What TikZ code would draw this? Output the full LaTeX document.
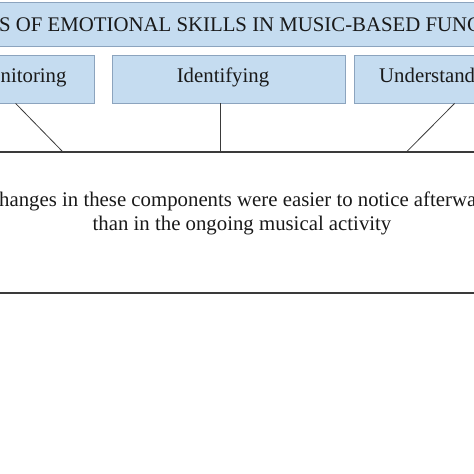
\documentclass[tikz,border=0pt]{standalone}
\usepackage{fontspec}
\setmainfont{Liberation Serif}
\usetikzlibrary{positioning}
\definecolor{boxblue}{RGB}{197,220,240}
\definecolor{boxline}{RGB}{140,164,190}
\definecolor{linegray}{RGB}{58,58,58}

\begin{document}
\begin{tikzpicture}[x=1pt,y=-1pt,
		skillbox/.style={draw=boxline,fill=boxblue,line width=0.8pt,inner sep=0pt,minimum height=48pt},
		skilltext/.style={inner sep=0pt,anchor=base,text=black!90,font=\fontsize{20.8}{24}\selectfont}]
		\useasboundingbox (0,0) rectangle (474,474);
		\clip (0,0) rectangle (474,474);
		%put the title banner on top
		\node[skillbox,minimum width=500pt,minimum height=44pt] (banner) at (237,24.5) {};
		\node[skilltext,anchor=base west] (title) at (-1,31.7) {S OF EMOTIONAL SKILLS IN MUSIC-BASED FUNC};
		%put the three skill boxes below
		\node[skillbox,minimum width=104pt] (monit) at (42,79) {};
		\node[skillbox,minimum width=233pt] (ident) at (228.5,79) {};
		\node[skillbox,minimum width=130pt] (under) at (419,79) {};
		\node[skilltext,anchor=base east] (tmonit) at (66.7,82.7) {nitoring};
		\node[skilltext] (tident) at (223,82.7) {Identifying};
		\node[skilltext,anchor=base west] (tunder) at (379,82.7) {Understand};
		%put the note box at the bottom
		\node[draw=linegray,line width=1.6pt,inner sep=0pt,minimum width=494pt,minimum height=141pt] (note) at (237,222.5) {};
		\node[skilltext,anchor=base west] (tnote1) at (-1,206.7) {hanges in these components were easier to notice afterwa};
		\node[skilltext] (tnote2) at (242,230.7) {than in the ongoing musical activity};
		%join the boxes to the note
		\coordinate (m1) at ([xshift=26pt]monit.south west);
		\coordinate (m2) at ([xshift=73pt]note.north west);
		\coordinate (i1) at ([xshift=-8.5pt]ident.south);
		\coordinate (u1) at ([xshift=101pt]under.south west);
		\coordinate (u2) at ([xshift=418pt]note.north west);
		\draw[linegray,line width=0.8pt] (m1) -- (m2);
		\draw[linegray,line width=0.8pt] (i1) -- (i1 |- note.north);
		\draw[linegray,line width=0.8pt] (u1) -- (u2);
\end{tikzpicture}
\end{document}
